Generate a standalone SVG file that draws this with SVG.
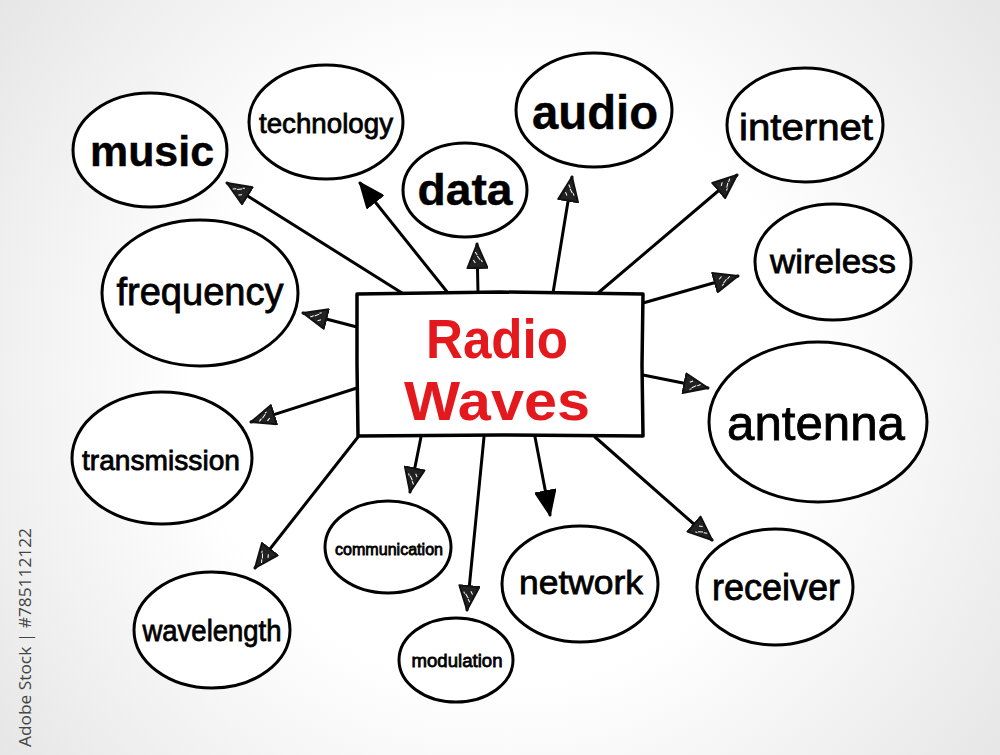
<svg xmlns="http://www.w3.org/2000/svg" width="1000" height="755" viewBox="0 0 1000 755">
<defs>
<radialGradient id="bg" cx="500" cy="380" r="680" gradientUnits="userSpaceOnUse">
<stop offset="0.45" stop-color="#ffffff"/>
<stop offset="1" stop-color="#e2e2e2"/>
</radialGradient>
<marker id="hatch" viewBox="0 0 26 22" refX="25" refY="11" markerWidth="26" markerHeight="22" markerUnits="userSpaceOnUse" orient="auto">
<path d="M1,1 L25,11 L1,21 Z" fill="#222" stroke="#111" stroke-width="2" stroke-linejoin="round"/>
<path d="M6,9 l3,-2 M9,14 l4,-3 M14,11 l3,-2 M7,16 l2,-1" stroke="#fff" stroke-width="1"/>
</marker>
<marker id="solid" viewBox="0 0 26 22" refX="25" refY="11" markerWidth="26" markerHeight="22" markerUnits="userSpaceOnUse" orient="auto">
<path d="M1,1 L25,11 L1,21 Z" fill="#000" stroke="#000" stroke-width="2" stroke-linejoin="round"/>
</marker>
</defs>
<style>
.node ellipse{fill:#fff;stroke:#000;stroke-width:3}
.lbl{font-family:"Liberation Sans","Noto Sans",sans-serif;fill:#000;text-anchor:middle;stroke:#000;stroke-width:0.8}
.bold{font-weight:bold;stroke-width:0.4}
.conn line{stroke:#000;stroke-width:3;stroke-linecap:round}
.h{marker-end:url(#hatch)}
.s{marker-end:url(#solid)}
.title{font-family:"Liberation Sans","Noto Sans",sans-serif;font-size:55px;font-weight:bold;fill:#e3191e;text-anchor:middle}
</style>
<rect x="0" y="0" width="1000" height="755" fill="url(#bg)"/>
<text transform="translate(31,747) rotate(-90)" font-family="'Open Sans','Liberation Sans',sans-serif" font-size="16" fill="#444" textLength="219" lengthAdjust="spacingAndGlyphs">Adobe Stock | #785112122</text>

<g id="connectors" class="conn">
<line class="h" x1="402" y1="293" x2="227" y2="183"/>
<line class="s" x1="448" y1="293" x2="360" y2="183"/>
<line class="h" x1="478" y1="293" x2="477" y2="244"/>
<line class="h" x1="553" y1="293" x2="572" y2="177"/>
<line class="h" x1="598" y1="293" x2="737" y2="175"/>
<line class="h" x1="643" y1="303" x2="738" y2="276"/>
<line class="h" x1="643" y1="375" x2="708" y2="388"/>
<line class="h" x1="357" y1="327" x2="303" y2="313"/>
<line class="h" x1="357" y1="388" x2="251" y2="422"/>
<line class="h" x1="358" y1="437" x2="255" y2="568"/>
<line class="h" x1="421" y1="437" x2="410" y2="492"/>
<line class="h" x1="484" y1="437" x2="467" y2="610"/>
<line class="s" x1="535" y1="437" x2="550" y2="515"/>
<line class="h" x1="595" y1="437" x2="712" y2="540"/>
</g>

<g id="center">
<path d="M357,294 L500,292 L643,294 L642,365 L643,436 L500,435 L358,436 L357,365 Z" fill="#fff" stroke="#000" stroke-width="3.5" stroke-linejoin="round"/>
<text class="title" x="497" y="358" textLength="142" lengthAdjust="spacingAndGlyphs">Radio</text>
<text class="title" x="497" y="420" textLength="186" lengthAdjust="spacingAndGlyphs">Waves</text>
</g>

<g id="music" class="node"><ellipse cx="150" cy="150" rx="77" ry="57"/><text class="lbl bold" x="152" y="166" font-size="42" textLength="124" lengthAdjust="spacingAndGlyphs">music</text></g>
<g id="technology" class="node"><ellipse cx="326" cy="122" rx="77" ry="57"/><text class="lbl" x="326" y="133" font-size="28" textLength="134" lengthAdjust="spacingAndGlyphs">technology</text></g>
<g id="data" class="node"><ellipse cx="465" cy="190" rx="62" ry="47"/><text class="lbl bold" x="465" y="205" font-size="44" textLength="95" lengthAdjust="spacingAndGlyphs">data</text></g>
<g id="audio" class="node"><ellipse cx="594" cy="110" rx="78" ry="57"/><text class="lbl bold" x="595" y="129" font-size="48" textLength="126" lengthAdjust="spacingAndGlyphs">audio</text></g>
<g id="internet" class="node"><ellipse cx="805" cy="125" rx="78" ry="57"/><text class="lbl" x="806" y="140" font-size="36" textLength="134" lengthAdjust="spacingAndGlyphs">internet</text></g>
<g id="wireless" class="node"><ellipse cx="833" cy="262" rx="78" ry="58"/><text class="lbl" x="833" y="273" font-size="34" textLength="126" lengthAdjust="spacingAndGlyphs">wireless</text></g>
<g id="frequency" class="node"><ellipse cx="200" cy="293" rx="98" ry="73"/><text class="lbl" x="200" y="305" font-size="38" textLength="167" lengthAdjust="spacingAndGlyphs">frequency</text></g>
<g id="transmission" class="node"><ellipse cx="162" cy="458" rx="90" ry="66"/><text class="lbl" x="161" y="470" font-size="28" textLength="158" lengthAdjust="spacingAndGlyphs">transmission</text></g>
<g id="antenna" class="node"><ellipse cx="818" cy="422" rx="109" ry="80"/><text class="lbl" x="816" y="440" font-size="48" textLength="178" lengthAdjust="spacingAndGlyphs">antenna</text></g>
<g id="communication" class="node"><ellipse cx="388" cy="547" rx="63" ry="46"/><text class="lbl" x="389" y="555" font-size="16" stroke-width="0.4" textLength="108" lengthAdjust="spacingAndGlyphs">communication</text></g>
<g id="network" class="node"><ellipse cx="580" cy="584" rx="78" ry="58"/><text class="lbl" x="581" y="594" font-size="34" textLength="124" lengthAdjust="spacingAndGlyphs">network</text></g>
<g id="receiver" class="node"><ellipse cx="775" cy="587" rx="78" ry="58"/><text class="lbl" x="776" y="600" font-size="36" textLength="128" lengthAdjust="spacingAndGlyphs">receiver</text></g>
<g id="modulation" class="node"><ellipse cx="456" cy="660" rx="57" ry="42"/><text class="lbl" x="457" y="667" font-size="19" stroke-width="0.4" textLength="91" lengthAdjust="spacingAndGlyphs">modulation</text></g>
<g id="wavelength" class="node"><ellipse cx="212" cy="630" rx="78" ry="58"/><text class="lbl" x="212" y="641" font-size="30" textLength="139" lengthAdjust="spacingAndGlyphs">wavelength</text></g>
</svg>
